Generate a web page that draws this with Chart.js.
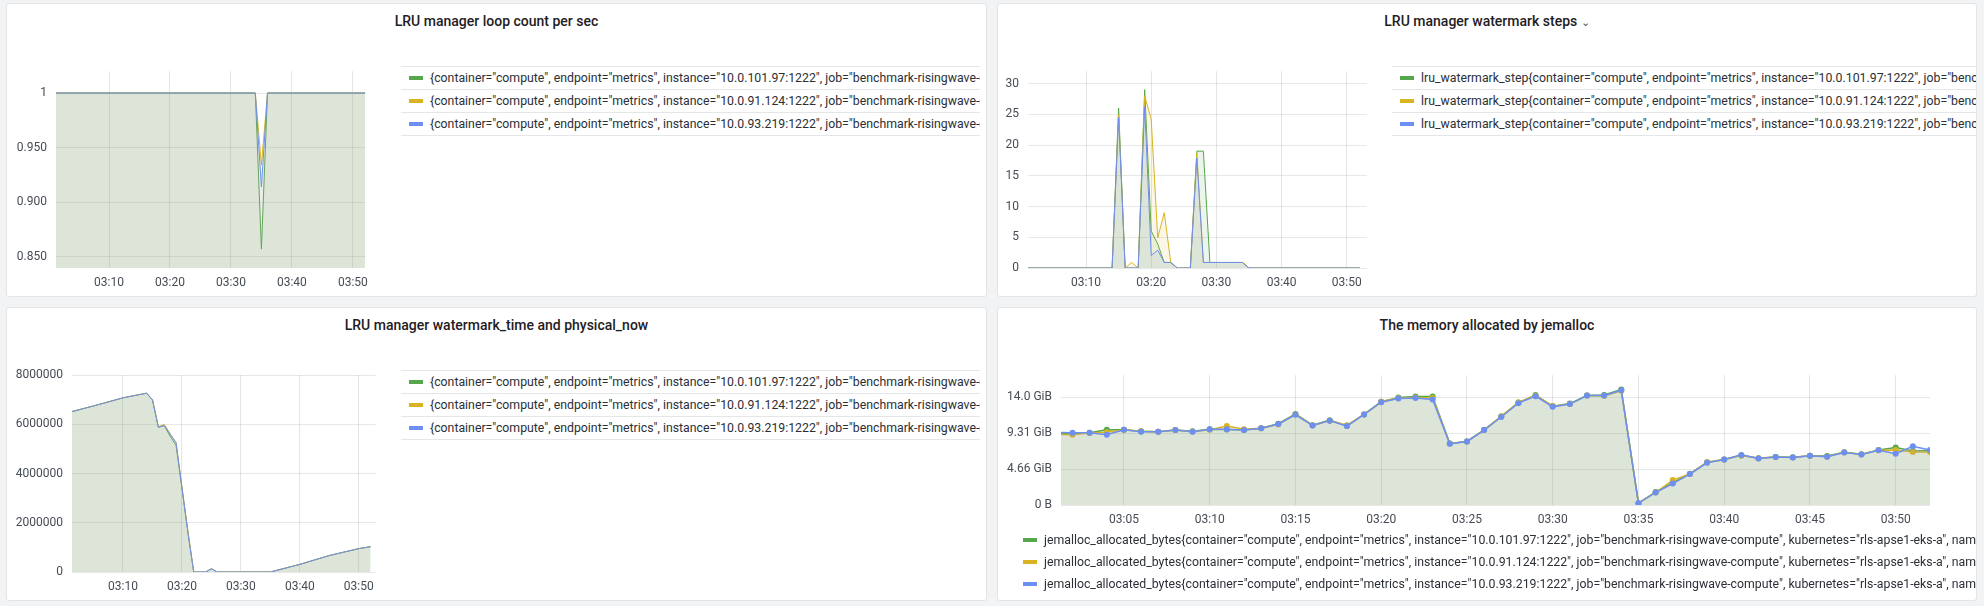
<!DOCTYPE html>
<html><head><meta charset="utf-8">
<script src="https://cdn.jsdelivr.net/npm/chart.js@4.4.1/dist/chart.umd.min.js"></script>
<style>
html,body{margin:0;padding:0;background:#f2f3f4;width:1984px;height:606px;overflow:hidden;font-family:Roboto,"Noto Sans",sans-serif;}
.panel{position:absolute;background:#fff;border:1px solid #e2e4e6;border-radius:3px;box-sizing:border-box;}
.title{position:absolute;left:0;right:0;text-align:center;font-size:14px;font-weight:500;color:#1f2023;}
canvas{position:absolute;}
.legend{position:absolute;overflow:hidden;white-space:nowrap;font-size:12.3px;color:#2b2f36;}
.legend .row{height:22px;line-height:22px;border-top:1px solid #e4e6e8;position:relative;padding-left:29px;overflow:hidden;}
.legend .row:last-child{border-bottom:1px solid #e4e6e8;}
.legend.nob .row{border:none;}
.sw{position:absolute;left:8px;top:9px;width:14px;height:4px;}
</style></head><body>
<div class="panel" style="left:6px;top:3px;width:981px;height:294px;"><div class="title" style="top:9px">LRU manager loop count per sec</div></div>
<div class="panel" style="left:997px;top:3px;width:980px;height:294px;"><div class="title" style="top:9px">LRU manager watermark steps <span style="font-size:11px;color:#555">&#8964;</span></div></div>
<div class="panel" style="left:6px;top:307px;width:981px;height:294px;"><div class="title" style="top:9px">LRU manager watermark_time and physical_now</div></div>
<div class="panel" style="left:997px;top:307px;width:980px;height:294px;"><div class="title" style="top:9px">The memory allocated by jemalloc</div></div>
<canvas id="c1" width="370" height="240" style="left:6px;top:55px"></canvas>
<canvas id="c2" width="375" height="240" style="left:997px;top:55px"></canvas>
<canvas id="c3" width="376" height="240" style="left:6px;top:359px"></canvas>
<canvas id="c4" width="938" height="175" style="left:997px;top:359px"></canvas>
<div id="l1" class="legend" style="left:401px;top:66px;width:579px"></div>
<div id="l2" class="legend" style="left:1392px;top:66px;width:584px"></div>
<div id="l3" class="legend" style="left:401px;top:370px;width:579px"></div>
<div id="l4" class="legend nob" style="left:1015px;top:529px;width:961px"></div>
<script>
// ---------- data ----------
const seriesColors = ["#56a64b", "#d8b422", "#6e8ff2"];
const instances = ["10.0.101.97:1222", "10.0.91.124:1222", "10.0.93.219:1222"];

// minutes after 03:00
const timeTicks10 = [10, 20, 30, 40, 50];
const timeLabels10 = ["03:10", "03:20", "03:30", "03:40", "03:50"];
const timeTicks5 = [5, 10, 15, 20, 25, 30, 35, 40, 45, 50];
const timeLabels5 = ["03:05", "03:10", "03:15", "03:20", "03:25", "03:30", "03:35", "03:40", "03:45", "03:50"];

// panel 1: loop count per sec  [minute, value]
const loopGreen = [[1, 1], [34, 1], [35, 0.857], [36, 1], [52, 1]];
const loopYellow = [[1, 1], [34, 1], [35, 0.934], [36, 1], [52, 1]];
const loopBlue = [[1, 1], [34, 1], [35, 0.914], [36, 1], [52, 1]];
const loopYTicks = [0.85, 0.9, 0.95, 1];
const loopYLabels = ["0.850", "0.900", "0.950", "1"];

// panel 2: watermark steps
const stepGreen = [[1, 0], [14, 0], [15, 26], [16, 0], [18, 0], [19, 29], [20, 6], [21, 3.9], [22, 0.9], [23, 0.9], [24, 0], [26, 0], [27, 19], [28, 19], [29, 0.9], [34, 0.9], [35, 0], [52, 0]];
const stepYellow = [[1, 0], [14, 0], [15, 25], [16, 0], [17, 0.9], [18, 0], [19, 28], [20, 24.2], [21, 4.9], [22, 9], [23, 0.9], [24, 0], [26, 0], [27, 18.7], [28, 0.9], [34, 0.9], [35, 0], [52, 0]];
const stepBlue = [[1, 0], [14, 0], [15, 24.5], [16, 0], [18, 0], [19, 26.2], [20, 2.05], [21, 2.9], [22, 0.9], [23, 0.9], [24, 0], [26, 0], [27, 17.9], [28, 0.9], [34, 0.9], [35, 0], [52, 0]];
const stepYTicks = [0, 5, 10, 15, 20, 25, 30];

// panel 3: watermark_time and physical_now
const wmGreen = [[1, 6500000], [5, 6750000], [10, 7080000], [14, 7270000], [15, 6990000], [16, 5880000], [17, 5950000], [18, 5520000], [19, 5150000], [20, 3400000], [21, 1650000], [22, 0], [24, 0], [25, 130000], [26, 0], [35, 0], [40, 310000], [45, 670000], [50, 950000], [52, 1030000]];
const wmYellow = [[1, 6500000], [5, 6750000], [10, 7080000], [14, 7270000], [15, 7010000], [16, 5900000], [17, 6000000], [18, 5620000], [19, 5260000], [20, 3460000], [21, 1680000], [22, 0], [24, 0], [25, 130000], [26, 0], [35, 0], [40, 310000], [45, 670000], [50, 950000], [52, 1030000]];
const wmBlue = [[1, 6500000], [5, 6750000], [10, 7080000], [14, 7270000], [15, 7010000], [16, 5900000], [17, 5950000], [18, 5600000], [19, 5260000], [20, 3440000], [21, 1620000], [22, 0], [24, 0], [25, 130000], [26, 0], [35, 0], [40, 310000], [45, 670000], [50, 950000], [52, 1030000]];
const wmYTicks = [0, 2000000, 4000000, 6000000, 8000000];

// panel 4: jemalloc allocated (GB = 1e9 bytes), one point per minute 03:01..03:52
const memMinutes = [1,2,3,4,5,6,7,8,9,10,11,12,13,14,15,16,17,18,19,20,21,22,23,24,25,26,27,28,29,30,31,32,33,34,35,36,37,38,39,40,41,42,43,44,45,46,47,48,49,50,51,52];
const memGreen = [10.0,9.95,10.04,10.46,10.46,10.25,10.20,10.42,10.25,10.55,10.50,10.42,10.67,11.30,12.67,11.10,11.80,11.00,12.59,14.35,14.95,15.10,15.10,8.55,8.84,10.45,12.30,14.25,15.30,13.75,14.10,15.22,15.30,16.05,0.26,1.80,3.10,4.35,5.95,6.34,6.90,6.50,6.67,6.65,6.84,6.80,7.35,7.05,7.65,8.00,7.50,7.55];
const memYellow = [9.80,9.78,10.0,10.12,10.46,10.25,10.20,10.42,10.20,10.45,10.97,10.55,10.67,11.20,12.60,11.05,11.73,11.10,12.59,14.35,14.85,14.95,14.88,8.55,8.84,10.42,12.35,14.25,15.20,13.75,14.03,15.22,15.15,15.90,0.26,1.74,3.46,4.30,5.95,6.34,6.90,6.50,6.67,6.59,6.84,6.72,7.35,7.01,7.61,7.65,7.37,7.37];
const memBlue = [10.12,10.04,10.04,9.78,10.46,10.20,10.20,10.42,10.20,10.55,10.55,10.42,10.67,11.27,12.54,11.05,11.73,10.97,12.59,14.29,14.80,14.88,14.67,8.51,8.84,10.42,12.24,14.16,15.14,13.65,14.03,15.22,15.22,15.94,0.26,1.74,2.98,4.30,5.87,6.34,6.97,6.46,6.67,6.59,6.84,6.72,7.31,7.01,7.61,7.14,8.16,7.65];
const memYTicks = [0, 5e9, 10e9, 15e9];
const memYLabels = ["0 B", "4.66 GiB", "9.31 GiB", "14.0 GiB"];

// ---------- legends ----------
function legend(id, prefix, suffix) {
  const el = document.getElementById(id);
  instances.forEach((inst, i) => {
    const r = document.createElement('div'); r.className = 'row';
    const s = document.createElement('span'); s.className = 'sw'; s.style.background = seriesColors[i];
    r.appendChild(s);
    r.appendChild(document.createTextNode(prefix + '{container="compute", endpoint="metrics", instance="' + inst + '", job="benchmark-risingwave-compute"' + suffix));
    el.appendChild(r);
  });
}
legend('l1', '', ', kubernetes="rls-apse1-eks-a"}');
legend('l2', 'lru_watermark_step', ', kubernetes="rls-apse1-eks-a"}');
legend('l3', '', ', kubernetes="rls-apse1-eks-a"}');
legend('l4', 'jemalloc_allocated_bytes', ', kubernetes="rls-apse1-eks-a", namespace="benchmark-risingwave", pod="benchmark-risingwave-compute"}');

// ---------- charts ----------
Chart.defaults.font.family = 'Roboto';
Chart.defaults.font.size = 12;
Chart.defaults.color = '#464c54';

function ds(points, i, withPoints) {
  return {
    data: points.map(p => ({x: p[0], y: p[1]})),
    order: 2 - i,
    borderColor: seriesColors[i], backgroundColor: seriesColors[i] + '1c',
    borderWidth: withPoints ? 1.5 : 1, fill: 'origin', tension: 0,
    pointRadius: withPoints ? 3 : 0, pointBackgroundColor: seriesColors[i], pointBorderWidth: 0
  };
}
function make(id, datasets, c) {
  new Chart(document.getElementById(id), {
    type: 'line',
    data: {datasets: datasets},
    options: {
      responsive: false, animation: false, devicePixelRatio: 1, clip: true,
      layout: {padding: {top: c.padTop, right: 5, left: 0, bottom: 0}},
      plugins: {legend: {display: false}, tooltip: {enabled: false}},
      scales: {
        x: {
          type: 'linear', min: c.xmin, max: c.xmax,
          afterBuildTicks: s => { s.ticks = c.xt.map(v => ({value: v})); },
          afterFit: s => { s.height = c.xh; },
          ticks: {padding: 8, maxRotation: 0, autoSkip: false, callback: (v) => c.xl[c.xt.indexOf(v)]},
          grid: {color: 'rgba(0,0,0,0.1)', drawTicks: false},
          border: {display: false}
        },
        y: {
          min: c.ymin, max: c.ymax,
          afterBuildTicks: s => { s.ticks = c.yt.map(v => ({value: v})); },
          afterFit: s => { s.width = c.yw; },
          ticks: {padding: 9, callback: (v) => c.yl ? c.yl[c.yt.indexOf(v)] : String(v)},
          grid: {color: 'rgba(0,0,0,0.09)', drawTicks: false},
          border: {display: false}
        }
      }
    }
  });
}
make('c1', [ds(loopGreen, 0), ds(loopYellow, 1), ds(loopBlue, 2)],
  {padTop: 5, xmin: 1.3, xmax: 52.1, xt: timeTicks10, xl: timeLabels10, xh: 27, ymin: 0.8397, ymax: 1.02, yt: loopYTicks, yl: loopYLabels, yw: 50});
make('c2', [ds(stepGreen, 0), ds(stepYellow, 1), ds(stepBlue, 2)],
  {padTop: 5, xmin: 1.1, xmax: 53.1, xt: timeTicks10, xl: timeLabels10, xh: 27, ymin: 0, ymax: 32, yt: stepYTicks, yw: 31});
make('c3', [ds(wmGreen, 0), ds(wmYellow, 1), ds(wmBlue, 2)],
  {padTop: 5, xmin: 1.35, xmax: 52.9, xt: timeTicks10, xl: timeLabels10, xh: 27, ymin: 0, ymax: 8000000, yt: wmYTicks, yw: 66});
const memPts = arr => memMinutes.map((m, k) => [m, arr[k] * 1e9]);
make('c4', [ds(memPts(memGreen), 0, true), ds(memPts(memYellow), 1, true), ds(memPts(memBlue), 2, true)],
  {padTop: 5, xmin: 1.33, xmax: 52, xt: timeTicks5, xl: timeLabels5, xh: 29, ymin: 0, ymax: 18.05e9, yt: memYTicks, yl: memYLabels, yw: 64});
</script>
</body></html>
